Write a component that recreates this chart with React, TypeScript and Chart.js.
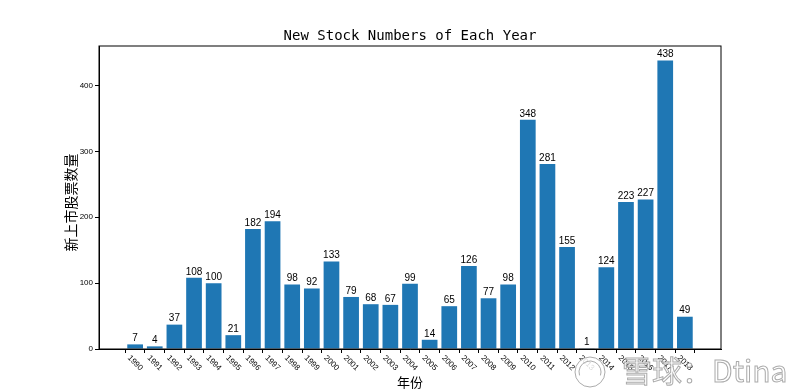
import React, { useEffect, useRef } from 'react';
import { Chart, registerables } from 'chart.js';

Chart.register(...registerables);

const years = [1990, 1991, 1992, 1993, 1994, 1995, 1996, 1997, 1998, 1999, 2000, 2001, 2002, 2003, 2004, 2005, 2006, 2007, 2008, 2009, 2010, 2011, 2012, 2013, 2014, 2015, 2016, 2017, 2018];
const counts = [7, 4, 37, 108, 100, 21, 182, 194, 98, 92, 133, 79, 68, 67, 99, 14, 65, 126, 77, 98, 348, 281, 155, 1, 124, 223, 227, 438, 49];
const yTickValues = [0, 100, 200, 300, 400];
const titleText = 'New Stock Numbers of Each Year';
const xTitleText = '年份';
const yTitleText = '新上市股票数量';
const watermarkText = '雪球：Dtina';

const X_MIN = 1988.16;
const X_MAX = 2019.84;
const Y_MAX = 460;

const barColor = '#1f77b4';
const cjkFont = '"Noto Sans CJK SC", "DejaVu Sans", sans-serif';
const numFont = '"Liberation Sans", Arial, sans-serif';

const overlayPlugin = {
  id: 'overlay',
  afterDraw(chart: any) {
    const { ctx, chartArea } = chart;
    const xScale = chart.scales.x;
    ctx.save();
    // box
    ctx.strokeStyle = '#000';
    ctx.lineWidth = 1;
    ctx.strokeRect(chartArea.left, chartArea.top, chartArea.right - chartArea.left, chartArea.bottom - chartArea.top);

    // bar value labels
    const meta = chart.getDatasetMeta(0);
    ctx.fillStyle = '#000';
    ctx.font = '10px ' + numFont;
    ctx.textAlign = 'center';
    ctx.textBaseline = 'bottom';
    meta.data.forEach((bar: any, i: number) => {
      ctx.fillText(String(counts[i]), bar.x, bar.y - 1);
    });

    // x tick labels rotated -45 (down-right)
    ctx.font = '8px ' + numFont;
    ctx.textAlign = 'center';
    ctx.textBaseline = 'middle';
    years.forEach((yr) => {
      const x = xScale.getPixelForValue(yr);
      ctx.save();
      ctx.translate(x, chartArea.bottom + 14);
      ctx.rotate(Math.PI / 4);
      ctx.fillText(String(yr), 0, 0);
      ctx.restore();
    });

    // title
    const cx = (chartArea.left + chartArea.right) / 2;
    ctx.font = '14px "DejaVu Sans Mono", monospace';
    ctx.textAlign = 'center';
    ctx.textBaseline = 'middle';
    ctx.fillText(titleText, cx, 36);

    // x title
    ctx.font = '13px ' + cjkFont;
    ctx.fillText(xTitleText, cx, 382);

    // y title
    ctx.save();
    ctx.translate(71, (chartArea.top + chartArea.bottom) / 2 + 5);
    ctx.rotate(-Math.PI / 2);
    ctx.font = '14px ' + cjkFont;
    ctx.fillText(yTitleText, 0, 0);
    ctx.restore();

    // watermark
    ctx.lineWidth = 1;
    ctx.strokeStyle = 'rgba(150,150,150,0.8)';
    ctx.fillStyle = 'rgba(255,255,255,0.85)';
    ctx.beginPath();
    ctx.arc(590, 372, 15, 0, Math.PI * 2);
    ctx.fill();
    ctx.stroke();
    ctx.beginPath();
    ctx.arc(590, 372, 11, Math.PI * 0.9, Math.PI * 2.1);
    ctx.stroke();
    ctx.font = '30px ' + cjkFont;
    ctx.textAlign = 'left';
    ctx.textBaseline = 'middle';
    ctx.fillText(watermarkText, 622, 371);
    ctx.strokeText(watermarkText, 622, 371);

    ctx.restore();
  },
};

export default function App() {
  const canvasRef = useRef<HTMLCanvasElement | null>(null);

  useEffect(() => {
    document.body.style.margin = '0';
    const canvas = canvasRef.current;
    if (!canvas) return;
    const chart = new Chart(canvas, {
      type: 'bar',
      data: {
        datasets: [
          {
            data: years.map((y, i) => ({ x: y, y: counts[i] })),
            backgroundColor: barColor,
            borderWidth: 0,
            barPercentage: 0.8,
            categoryPercentage: 1.0,
          },
        ],
      },
      options: {
        animation: false,
        responsive: false,
        maintainAspectRatio: false,
        layout: { padding: { top: 46, right: 79, left: 0, bottom: 0 } },
        plugins: {
          legend: { display: false },
          title: { display: false },
          tooltip: { enabled: false },
        },
        scales: {
          x: {
            type: 'linear',
            min: X_MIN,
            max: X_MAX,
            offset: false,
            afterBuildTicks: (scale: any) => {
              scale.ticks = years.map((v) => ({ value: v }));
            },
            afterFit: (scale: any) => {
              scale.height = 43;
            },
            ticks: { display: false },
            grid: {
              drawOnChartArea: false,
              drawTicks: true,
              tickLength: 4,
              tickColor: '#000',
              color: '#000',
            },
            border: { display: true, color: '#000', width: 1 },
          },
          y: {
            min: 0,
            max: Y_MAX,
            afterBuildTicks: (scale: any) => {
              scale.ticks = yTickValues.map((v) => ({ value: v }));
            },
            afterFit: (scale: any) => {
              scale.width = 99;
            },
            ticks: {
              color: '#000',
              font: { size: 8, family: numFont },
              padding: 2,
            },
            grid: {
              drawOnChartArea: false,
              drawTicks: true,
              tickLength: 4,
              tickColor: '#000',
              color: '#000',
            },
            border: { display: true, color: '#000', width: 1 },
          },
        },
      },
      plugins: [overlayPlugin],
    } as any);
    return () => chart.destroy();
  }, []);

  return (
    <div style={{ width: 800, height: 392, position: 'relative', background: '#fff' }}>
      <canvas ref={canvasRef} width={800} height={392} style={{ display: 'block' }} />
    </div>
  );
}
